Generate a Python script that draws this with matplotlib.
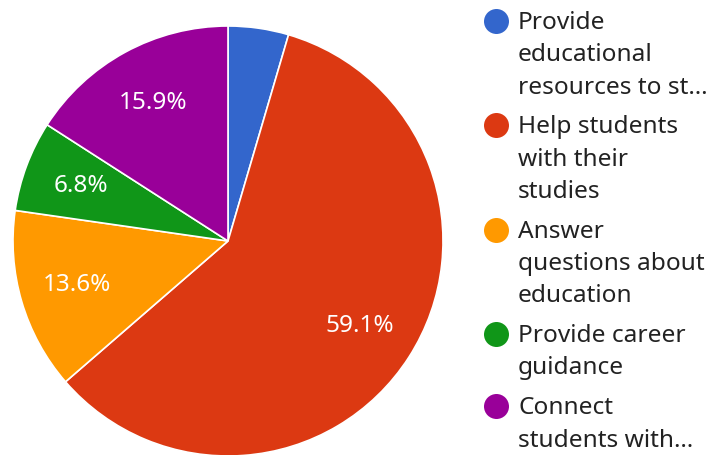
import matplotlib
matplotlib.use("Agg")
import matplotlib.pyplot as plt

# Datos del gráfico (respuestas por opción)
labels = [
    "Provide\neducational\nresources to st…",
    "Help students\nwith their\nstudies",
    "Answer\nquestions about\neducation",
    "Provide career\nguidance",
    "Connect\nstudents with…",
]
counts = [2, 26, 6, 3, 7]
colors = ["#3366cc", "#dc3912", "#ff9900", "#109618", "#990099"]

W, H = 709, 455
fig = plt.figure(figsize=(W / 100, H / 100), dpi=100)
plt.rcParams["font.family"] = ["Noto Sans", "DejaVu Sans"]

# Pastel: centro (228, 241) px, radio 215 px
cx, cy, r = 228, 241, 215
ax = fig.add_axes([(cx - r) / W, (H - cy - r) / H, 2 * r / W, 2 * r / H])
wedges, texts, autotexts = ax.pie(
    counts, colors=colors, startangle=90, counterclock=False,
    autopct=lambda p: f"{p:.1f}%" if p > 5 else "", pctdistance=0.73,
    wedgeprops=dict(edgecolor="white", linewidth=1.2),
    textprops=dict(color="white", fontsize=17.5),
)
ax.set_xlim(-1, 1)
ax.set_ylim(-1, 1)
ax.set_aspect("equal")
ax.axis("off")

# Leyenda manual en coordenadas de píxel
leg = fig.add_axes([0, 0, 1, 1])
leg.set_xlim(0, W)
leg.set_ylim(H, 0)
leg.axis("off")

line_h = 32.3
y = 20.7
for label, color in zip(labels, colors):
    leg.scatter([496], [y], s=18 ** 2, color=color, linewidths=0)
    for j, line in enumerate(label.split("\n")):
        leg.text(518, y + 8.3 + j * line_h, line, fontsize=17.6, color="#222222",
                 va="baseline", ha="left")
    y += line_h * len(label.split("\n")) + 7.5

fig.savefig("out.png", dpi=100)
